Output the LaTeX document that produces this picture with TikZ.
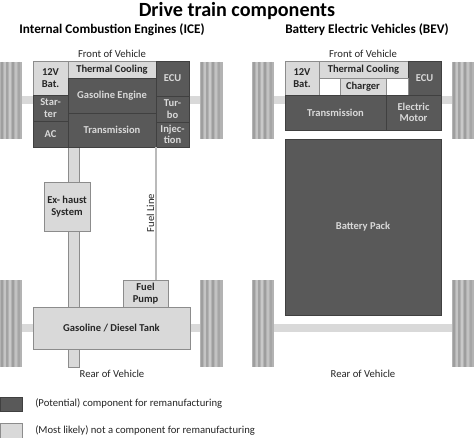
\documentclass[tikz,border=0pt]{standalone}
\usepackage{fontspec}
\setmainfont{Carlito}
\definecolor{dk}{HTML}{595959}
\definecolor{dkline}{HTML}{404040}
\definecolor{lt}{HTML}{D9D9D9}
\definecolor{ltline}{HTML}{8C8C8C}
\definecolor{ax}{HTML}{D9D9D9}
\definecolor{wh}{HTML}{B3B3B3}
\definecolor{txt}{HTML}{262626}
\tikzset{
  base/.style={inner sep=0pt, outer sep=0pt, align=center, line width=0.6pt,
    font=\fontsize{7.9pt}{8.6pt}\selectfont\bfseries},
  darkbox/.style={base, fill=dk, draw=dkline, text=lt},
  lightbox/.style={base, fill=lt, draw=ltline, text=txt},
  whitebox/.style={base, fill=white, draw=ltline},
  axle/.style={fill=ax, draw=none},
  pipe/.style={base, fill=lt, draw=ltline},
  wheel/.style={fill=wh, draw=none},
  lbl/.style={inner sep=0pt, text=txt, font=\fontsize{8pt}{9pt}\selectfont},
  ttl/.style={inner sep=0pt, text=black, font=\fontsize{9.9pt}{11pt}\selectfont\bfseries},
  fuel/.style={draw=ltline!60, line width=1.3pt},
}
\newcommand\blk[7]{\node[#6, minimum width={(#4-#2)*0.75pt}, minimum height={(#5-#3)*0.75pt}] (#1) at ({(#2+#4)/2},{(#3+#5)/2}) {#7};}
\newcommand\whl[5]{%
  \node[wheel, inner sep=0pt, minimum width={(#4-#2)*0.75pt}, minimum height={(#5-#3)*0.75pt}] (#1) at ({(#2+#4)/2},{(#3+#5)/2}) {};
  \foreach \k/\c in {2/9E9E9E,5/C4C4C4,7/A3A3A3,10/C9C9C9,13/9E9E9E,16/C2C2C2,19/A6A6A6}{
    \definecolor{stc}{HTML}{\c}
    \draw[stc, line width=1.2pt] ({#2+\k},#3) -- ({#2+\k},#5);
  }}
\begin{document}
\begin{tikzpicture}[x=0.75pt,y=-0.75pt]
\useasboundingbox[fill=white] (0,0) rectangle (474,438);
% titles
\node[inner sep=0pt, font=\fontsize{15.1pt}{16pt}\selectfont\bfseries] (title) at (237,11.5) {Drive train components};
\node[ttl] (ticet) at (112,30) {Internal Combustion Engines (ICE)};
\node[ttl] (tbev) at (367,30) {Battery Electric Vehicles (BEV)};
\node[lbl] (ffront) at (112,54) {Front of Vehicle};
\node[lbl] (bfront) at (363,54) {Front of Vehicle};
\node[lbl] (frear) at (112,374) {Rear of Vehicle};
\node[lbl] (brear) at (363,374) {Rear of Vehicle};
% ===== ICE =====
\whl{iflw}{0}{62}{22}{139}
\whl{ifrw}{200}{62}{223}{139}
\whl{irlw}{0}{280}{22}{367}
\whl{irrw}{200}{280}{223}{367}
\blk{ifax}{22}{96}{200}{104}{axle}{}
\blk{irax}{22}{324}{200}{332}{axle}{}
\blk{pipe}{68}{147}{79}{367}{pipe}{}
\blk{bat}{33}{61}{68}{95}{lightbox}{12V\\Bat.}
\blk{cool}{68}{61}{156}{78}{lightbox}{Thermal Cooling}
\blk{ecu}{156}{61}{189}{96}{darkbox}{ECU}
\blk{eng}{68}{78}{156}{113}{darkbox}{Gasoline Engine}
\blk{trans}{68}{113}{156}{147}{darkbox}{Transmission}
\blk{start}{33}{95}{68}{121}{darkbox}{Star-\\ter}
\blk{ac}{33}{121}{68}{147}{darkbox}{AC}
\blk{turbo}{156}{96}{189}{122}{darkbox}{Tur-\\bo}
\blk{inj}{156}{122}{189}{147}{darkbox}{Injec-\\tion}
\blk{exh}{44}{182}{90}{231}{lightbox}{Ex- haust\\System}
\blk{pump}{123}{280}{168}{307}{lightbox}{Fuel\\Pump}
\draw[fuel] (trans.south east) -- (pump.north -| trans.south east);
\blk{tank}{33}{307}{190}{349}{lightbox}{Gasoline / Diesel Tank}
\node[lbl, rotate=90] (fuellbl) at (150.5,213) {Fuel Line};
% ===== BEV =====
\whl{bflw}{252}{62}{274}{139}
\whl{bfrw}{452}{62}{474}{139}
\whl{brlw}{252}{280}{274}{367}
\whl{brrw}{452}{280}{474}{367}
\blk{bfax}{274}{96}{452}{104}{axle}{}
\blk{brax}{274}{324}{452}{332}{axle}{}
\blk{bbat}{285}{61}{319}{95}{lightbox}{12V\\Bat.}
\blk{bcool}{319}{61}{408}{78}{lightbox}{Thermal Cooling}
\blk{becu}{408}{61}{441}{95}{darkbox}{ECU}
\blk{bw1}{319}{78}{340}{95}{whitebox}{}
\blk{bchg}{340}{78}{386}{95}{lightbox}{Charger}
\blk{bw2}{386}{78}{408}{95}{whitebox}{}
\blk{btrans}{285}{95}{386}{130}{darkbox}{Transmission}
\blk{bmot}{386}{95}{441}{130}{darkbox}{Electric\\Motor}
\blk{bpack}{285}{139}{441}{315}{darkbox}{Battery Pack}
% ===== legend =====
\blk{lgdk}{0}{397}{22}{411}{darkbox}{}
\blk{lglt}{0}{423}{22}{440}{lightbox}{}
\node[lbl, anchor=west] (lgdkt) at (35,404) {(Potential) component for remanufacturing};
\node[lbl, anchor=west] (lgltt) at (35,431) {(Most likely) not a component for remanufacturing};
\end{tikzpicture}
\end{document}
